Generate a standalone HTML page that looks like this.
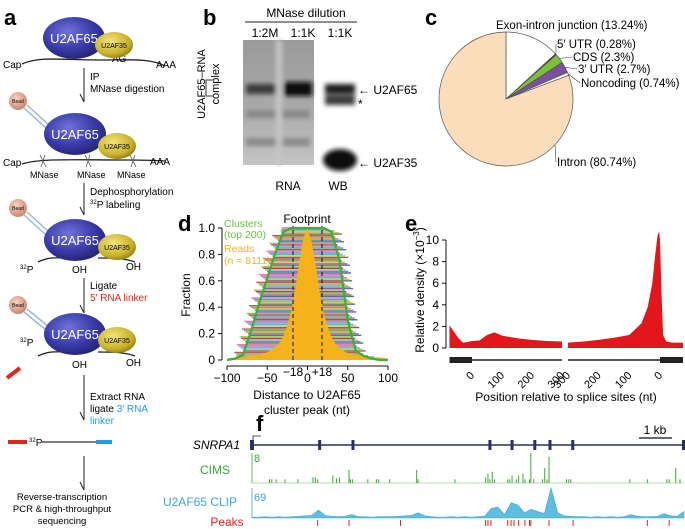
<!DOCTYPE html>
<html><head><meta charset="utf-8"><style>
html,body{margin:0;padding:0;background:#fff}
svg{display:block;font-family:"Liberation Sans",sans-serif}
</style></head><body>
<svg id="fig" width="685" height="529" viewBox="0 0 685 529">
<defs>
<radialGradient id="blueG" cx="40%" cy="35%" r="70%"><stop offset="0" stop-color="#6f74d8"/><stop offset="0.6" stop-color="#3a3aa8"/><stop offset="1" stop-color="#22226e"/></radialGradient>
<radialGradient id="yelG" cx="40%" cy="35%" r="70%"><stop offset="0" stop-color="#f3e47a"/><stop offset="0.7" stop-color="#c9b22a"/><stop offset="1" stop-color="#8d7a10"/></radialGradient>
<radialGradient id="beadG" cx="40%" cy="35%" r="70%"><stop offset="0" stop-color="#f7d2c0"/><stop offset="1" stop-color="#c9836a"/></radialGradient>
<filter id="blur2"><feGaussianBlur stdDeviation="2.5"/></filter>
<linearGradient id="gelG" x1="0" y1="0" x2="0" y2="1"><stop offset="0" stop-color="#9a9a9a"/><stop offset="0.5" stop-color="#a8a8a8"/><stop offset="1" stop-color="#c4c4c4"/></linearGradient>
</defs>

<!-- ============ Panel a ============ -->
<g font-size="10">
<text x="4" y="25" font-size="22" font-weight="bold">a</text>
<g>
<path d="M22,64 C40,56 60,60 100,60 C130,60 150,58 165,66" fill="none" stroke="#222" stroke-width="1.3"/>
<text x="3" y="68">Cap</text>
<text x="156" y="68">AAA</text>
<text x="112" y="62">AG</text>
<ellipse cx="74" cy="38" rx="31" ry="21" fill="url(#blueG)"/>
<text x="74" y="43" fill="#fff" font-size="13" text-anchor="middle">U2AF65</text>
<ellipse cx="114" cy="45" rx="19" ry="13" fill="url(#yelG)"/>
<text x="114" y="48" font-size="7" text-anchor="middle">U2AF35</text>
</g>
<line x1="84" y1="68" x2="84" y2="102" stroke="#222"/><path d="M84,102 L80,94" stroke="#222" fill="none"/>
<text x="90" y="80">IP</text><text x="90" y="92">MNase digestion</text>
<g>
<circle cx="18" cy="101" r="9" fill="url(#beadG)"/><text x="18" y="103" font-size="5" text-anchor="middle">Bead</text>
<path d="M24,108 L46,128 M27,105 L49,125" stroke="#9bb8d8" stroke-width="1.5"/>
<path d="M22,164 C40,158 80,160 120,160 C140,160 150,160 165,161" fill="none" stroke="#222" stroke-width="1.3"/>
<text x="3" y="166">Cap</text><text x="150" y="165">AAA</text>
<ellipse cx="75" cy="134" rx="31" ry="21" fill="url(#blueG)"/>
<text x="75" y="139" fill="#fff" font-size="13" text-anchor="middle">U2AF65</text>
<ellipse cx="117" cy="146" rx="19" ry="13" fill="url(#yelG)"/>
<text x="117" y="149" font-size="7" text-anchor="middle">U2AF35</text>
<text x="30" y="178" font-size="9">MNase</text><text x="77" y="178" font-size="9">MNase</text><text x="117" y="178" font-size="9">MNase</text>
<path d="M40,155 l6,12 M45,155 l-4,12 M85,155 l6,12 M90,155 l-4,12 M130,155 l6,12 M135,155 l-4,12" stroke="#555" stroke-width="0.8"/>
</g>
<line x1="84" y1="183" x2="84" y2="215" stroke="#222"/><path d="M84,215 L80,207" stroke="#222" fill="none"/>
<text x="90" y="195">Dephosphorylation</text><text x="90" y="208"><tspan font-size="6" dy="-4">32</tspan><tspan dy="4">P labeling</tspan></text>
<g>
<circle cx="18" cy="208" r="9" fill="url(#beadG)"/><text x="18" y="210" font-size="5" text-anchor="middle">Bead</text>
<path d="M24,215 L46,235 M27,212 L49,232" stroke="#9bb8d8" stroke-width="1.5"/>
<path d="M38,262 C50,256 60,258 78,258 M98,258 C110,258 125,258 135,262" fill="none" stroke="#222" stroke-width="1.3"/>
<ellipse cx="75" cy="240" rx="31" ry="21" fill="url(#blueG)"/>
<text x="75" y="245" fill="#fff" font-size="13" text-anchor="middle">U2AF65</text>
<ellipse cx="117" cy="247" rx="19" ry="13" fill="url(#yelG)"/>
<text x="117" y="250" font-size="7" text-anchor="middle">U2AF35</text>
<text x="20" y="273"><tspan font-size="6" dy="-4">32</tspan><tspan dy="4">P</tspan></text>
<text x="72" y="273">OH</text><text x="126" y="270">OH</text>
</g>
<line x1="84" y1="278" x2="84" y2="313" stroke="#222"/><path d="M84,313 L80,305" stroke="#222" fill="none"/>
<text x="90" y="289">Ligate</text><text x="90" y="301" fill="#e0261f">5′ RNA linker</text>
<g>
<circle cx="18" cy="305" r="9" fill="url(#beadG)"/><text x="18" y="307" font-size="5" text-anchor="middle">Bead</text>
<path d="M24,312 L46,330 M27,309 L49,327" stroke="#9bb8d8" stroke-width="1.5"/>
<path d="M38,356 C50,350 60,352 78,352 M98,352 C110,352 125,352 135,356" fill="none" stroke="#222" stroke-width="1.3"/>
<ellipse cx="75" cy="334" rx="31" ry="21" fill="url(#blueG)"/>
<text x="75" y="339" fill="#fff" font-size="13" text-anchor="middle">U2AF65</text>
<ellipse cx="117" cy="340" rx="19" ry="13" fill="url(#yelG)"/>
<text x="117" y="343" font-size="7" text-anchor="middle">U2AF35</text>
<text x="20" y="346"><tspan font-size="6" dy="-4">32</tspan><tspan dy="4">P</tspan></text>
<path d="M7,378 L20,368" stroke="#e0261f" stroke-width="4"/>
<text x="72" y="368">OH</text><text x="126" y="366">OH</text>
</g>
<line x1="84" y1="375" x2="84" y2="420" stroke="#222"/><path d="M84,420 L80,412" stroke="#222" fill="none"/>
<text x="90" y="400">Extract RNA</text><text x="90" y="412">ligate <tspan fill="#1fa0dc">3′ RNA</tspan></text><text x="90" y="424" fill="#1fa0dc">linker</text>
<g>
<line x1="8" y1="442" x2="27" y2="442" stroke="#e0261f" stroke-width="4"/>
<text x="29" y="446" font-size="10"><tspan font-size="6" dy="-4">32</tspan><tspan dy="4">P</tspan></text>
<line x1="42" y1="442" x2="96" y2="442" stroke="#555" stroke-width="1.5"/>
<line x1="96" y1="442" x2="112" y2="442" stroke="#1fa0dc" stroke-width="4"/>
</g>
<line x1="84" y1="456" x2="84" y2="490" stroke="#222"/><path d="M84,490 L80,482" stroke="#222" fill="none"/>
<g font-size="9.5" text-anchor="middle"><text x="62" y="500">Reverse-transcription</text><text x="62" y="512">PCR &amp; high-throughput</text><text x="62" y="524">sequencing</text></g>
</g>

<!-- ============ Panel b ============ -->
<g font-size="12">
<text x="203" y="25" font-size="22" font-weight="bold">b</text>
<text x="306" y="17" text-anchor="middle">MNase dilution</text>
<line x1="245" y1="22" x2="357" y2="22" stroke="#222"/>
<text x="265" y="37" text-anchor="middle">1:2M</text><text x="303" y="37" text-anchor="middle">1:1K</text><text x="340" y="37" text-anchor="middle">1:1K</text>
<rect x="243" y="40" width="71" height="125" fill="url(#gelG)"/>
<g filter="url(#blur2)">
<rect x="246" y="84" width="30" height="10" fill="#3a3a3a"/>
<rect x="284" y="82" width="28" height="14" fill="#111"/>
<rect x="246" y="110" width="64" height="8" fill="#888"/>
<rect x="246" y="138" width="64" height="8" fill="#8a8a8a"/>
<rect x="276" y="40" width="6" height="125" fill="#c6c6c6"/>
</g>
<g filter="url(#blur2)">
<rect x="325" y="84" width="30" height="10" fill="#1a1a1a"/>
<rect x="325" y="95" width="30" height="10" fill="#3a3a3a"/>
<ellipse cx="340" cy="160" rx="17" ry="11" fill="#0a0a0a"/>
</g>
<text x="205" y="84" font-size="11" transform="rotate(-90 205 84)" text-anchor="middle">U2AF65–RNA</text>
<text x="219" y="84" font-size="11" transform="rotate(-90 219 84)" text-anchor="middle">complex</text>
<path d="M213,80 L206,80 L206,96 L213,96" fill="none" stroke="#333"/>
<text x="358" y="94" font-size="12">← U2AF65</text>
<text x="358" y="108" font-size="12">*</text>
<text x="358" y="167" font-size="12">← U2AF35</text>
<text x="288" y="190" text-anchor="middle">RNA</text><text x="338" y="190" text-anchor="middle">WB</text>
</g>

<g id="pie" font-size="11.5">
<text x="425" y="25" font-size="22" font-weight="bold">c</text>
</g>

<g id="pd" font-size="12">
<text x="178" y="231" font-size="22" font-weight="bold">d</text>
</g>

<g id="pe" font-size="12">
<text x="405" y="231" font-size="22" font-weight="bold">e</text>
</g>

<g id="pf" font-size="11">
<text x="256" y="431" font-size="22" font-weight="bold">f</text>
<text x="240" y="449" text-anchor="end" font-style="italic" font-size="12">SNRPA1</text>
<text x="655" y="434" text-anchor="middle" font-size="12">1 kb</text>
<line x1="639" y1="438" x2="672" y2="438" stroke="#111" stroke-width="1.2"/>
<text x="215" y="474" fill="#39a935" text-anchor="middle" font-size="12">CIMS</text>
<text x="254" y="462" fill="#39a935" font-size="11">8</text>
<text x="200" y="506" fill="#3aa8d8" text-anchor="middle" font-size="12">U2AF65 CLIP</text>
<text x="254" y="501" fill="#3aa8d8" font-size="11">69</text>
<text x="227" y="526" fill="#e0261f" text-anchor="middle" font-size="12">Peaks</text>
</g>
</svg>
<script>
const NS="http://www.w3.org/2000/svg";
function mk(parent,tag,attrs){const e=document.createElementNS(NS,tag);for(const k in attrs)e.setAttribute(k,attrs[k]);parent.appendChild(e);return e;}

/* ---------- Panel c: pie ---------- */
const pieLabels=["Exon-intron junction (13.24%)","5′ UTR (0.28%)","CDS (2.3%)","3′ UTR (2.7%)","Noncoding (0.74%)","Intron (80.74%)"];
const pieValues=[13.24,0.28,2.3,2.7,0.74,80.74];
const pieColors=["#ffffff","#1d1d1d","#7cc236","#7d4fa1","#ffffff","#fbddbb"];
(function(){
  const g=document.getElementById('pie');
  const cx=506,cy=99,r=67;
  const total=pieValues.reduce((a,b)=>a+b,0);
  let a0=-Math.PI/2;
  const labelPos=[[496,29],[557,48],[573,61],[578,73],[581,87],[557,166]];
  pieValues.forEach((v,i)=>{
    const a1=a0+v/total*2*Math.PI;
    const large=(a1-a0)>Math.PI?1:0;
    const p=mk(g,'path',{d:`M${cx},${cy} L${cx+r*Math.cos(a0)},${cy+r*Math.sin(a0)} A${r},${r} 0 ${large} 1 ${cx+r*Math.cos(a1)},${cy+r*Math.sin(a1)} Z`,fill:pieColors[i],stroke:"#555","stroke-width":0.7});
    
    
    const am=(i===5)?0.75:(a0+a1)/2;
    const ex=cx+r*Math.cos(am),ey=cy+r*Math.sin(am);
    const lp=labelPos[i];
    if(i>0){
      const ln=mk(g,'line',{x1:ex,y1:ey,x2:lp[0]-1,y2:lp[1]-4,stroke:"#444","stroke-width":0.6});
      
      
    }
    const t=mk(g,'text',{x:lp[0],y:lp[1]});
    t.textContent=pieLabels[i];
    
    
    a0=a1;
  });
})();

/* ---------- Panel d ---------- */
const dReadX=[-100,-90,-80,-70,-60,-50,-40,-35,-30,-25,-20,-15,-10,-5,0,5,10,15,20,25,30,35,40,50,60,70,80,90,100];
const dReadY=[0.01,0.02,0.02,0.03,0.04,0.06,0.1,0.13,0.18,0.26,0.38,0.55,0.75,0.93,1.0,0.9,0.72,0.52,0.36,0.25,0.17,0.12,0.09,0.05,0.04,0.03,0.02,0.02,0.01];
const dClusterX=[-100,-90,-80,-70,-60,-50,-40,-30,-20,-10,0,10,20,30,40,50,60,70,80,90,100];
const dClusterY=[0,0.01,0.04,0.22,0.43,0.62,0.81,0.97,1,1,1,1,1,0.97,0.75,0.3,0.07,0.03,0.01,0,0];
const dXTicks=[-100,-50,0,50,100];
const dYTicks=[0,0.2,0.4,0.6,0.8,1.0];
(function(){
  const g=document.getElementById('pd');
  const X=v=>227+(v+100)/200*161, Y=v=>360-v*132;
  const cols=["#7a3b8f","#3c8dc4","#e88f2c","#62a744","#c23b3b","#555","#d4b83a","#3bb6a8","#8e6fc8","#e36aa1","#2b5d8f","#9c6b3a","#6aa9e0","#aa2222","#88bb33"];
  function invLeft(f){for(let i=0;i<10;i++){const y0=dClusterY[i],y1=dClusterY[i+1];if(f>=y0&&f<=y1&&y1>y0)return dClusterX[i]+(f-y0)/(y1-y0)*10;}return -20;}
  function invRight(f){for(let i=12;i<20;i++){const y0=dClusterY[i],y1=dClusterY[i+1];if(f<=y0&&f>=y1&&y0>y1)return dClusterX[i]+(y0-f)/(y0-y1)*10;}return 20;}
  for(let k=0;k<85;k++){
    const f=0.01+k*0.0118;
    const ext=(k%5)*3;
    const l=mk(g,'line',{x1:X(Math.max(-100,invLeft(f)-ext)),x2:X(Math.min(100,invRight(f)+(4-k%5)*3)),y1:Y(f),y2:Y(f),stroke:cols[k%cols.length],'stroke-width':1.4,opacity:0.85});
    
    
  }
  let pts=dReadX.map((x,i)=>`${X(x)},${Y(dReadY[i])}`).join(' ');
  const ar=mk(g,'polygon',{points:`${X(-100)},${Y(0)} ${pts} ${X(100)},${Y(0)}`,fill:"#f6b21b"});
  
  
  const gl=mk(g,'polyline',{points:dClusterX.map((x,i)=>`${X(x)},${Y(dClusterY[i])}`).join(' '),fill:"none",stroke:"#3cb034",'stroke-width':2.2});
  
  
  [-18,18].forEach(v=>{const d=mk(g,'line',{x1:X(v),x2:X(v),y1:Y(0),y2:Y(1.0)-2,stroke:"#111",'stroke-dasharray':"4,3",'stroke-width':1});
    
    });
  const ax=mk(g,'line',{x1:X(-100),x2:X(100),y1:366,y2:366,stroke:"#111"});
  
  
  dXTicks.forEach(v=>{mk(g,'line',{x1:X(v),x2:X(v),y1:366,y2:370,stroke:"#111"});
    const t=mk(g,'text',{x:X(v),y:382,'text-anchor':'middle'});t.textContent=(v<0?'−'+(-v):v);
    
    });
  [["−18",-18],["+18",18]].forEach(([s,v])=>{const t=mk(g,'text',{x:X(v),y:376,'text-anchor':'middle'});t.textContent=s;
    
    });
  const ay=mk(g,'line',{x1:222,x2:222,y1:Y(0),y2:Y(1),stroke:"#111"});
  
  
  dYTicks.forEach(v=>{mk(g,'line',{x1:218,x2:222,y1:Y(v),y2:Y(v),stroke:"#111"});
    const t=mk(g,'text',{x:215,y:Y(v)+4,'text-anchor':'end'});t.textContent=(v===0?'0':v.toFixed(1));
    
    });
  const yt=mk(g,'text',{x:190,y:295,'text-anchor':'middle',transform:'rotate(-90 190 295)'});yt.textContent='Fraction';
  
  
  const x1=mk(g,'text',{x:307,y:399,'text-anchor':'middle'});x1.textContent='Distance to U2AF65';
  
  
  const x2=mk(g,'text',{x:307,y:414,'text-anchor':'middle'});x2.textContent='cluster peak (nt)';
  
  
  const ft=mk(g,'text',{x:307,y:223,'text-anchor':'middle'});ft.textContent='Footprint';
  
  
  [["Clusters",227,"#6fbe44"],["(top 200)",238,"#6fbe44"],["Reads",252,"#f6b21b"],["(n = 8111)",264,"#f6b21b"]].forEach(([s,y,c])=>{
    const t=mk(g,'text',{x:224,y:y,fill:c,'font-size':10.5});t.textContent=s;
    
    });
})();

/* ---------- Panel e ---------- */
const e5X=[-75,-60,-45,-30,-15,0,25,50,75,100,150,200,250,300];
const e5Y=[2.1,1.5,0.9,0.5,0.55,0.65,0.7,1.2,1.45,1.15,0.9,0.75,0.65,0.6];
const e3X=[300,250,200,150,100,60,40,25,15,8,3,0,-5,-10,-20,-40,-75];
const e3Y=[0.5,0.6,0.75,0.95,1.2,2.3,3.8,6,8.8,10.4,10.8,10,5,1.2,0.6,0.5,0.5];
const eYTicks=[0,2,4,6,8,10];
const eXTicks=[0,100,200,300];
(function(){
  const g=document.getElementById('pe');
  const Y=v=>348-v*10.8;
  const XL=v=>472+v*0.3, XR=v=>660-v*0.307;
  const a1=mk(g,'polygon',{points:`${XL(-75)},${Y(0)} `+e5X.map((x,i)=>`${XL(x)},${Y(e5Y[i])}`).join(' ')+` ${XL(300)},${Y(0)}`,fill:"#e2161b"});
  
  
  const a2=mk(g,'polygon',{points:`${XR(300)},${Y(0)} `+e3X.map((x,i)=>`${XR(x)},${Y(e3Y[i])}`).join(' ')+` ${XR(-75)},${Y(0)}`,fill:"#e2161b"});
  
  
  const ay=mk(g,'line',{x1:446,x2:446,y1:Y(0),y2:Y(10),stroke:"#111"});
  
  
  eYTicks.forEach(v=>{mk(g,'line',{x1:442,x2:446,y1:Y(v),y2:Y(v),stroke:"#111"});
    const t=mk(g,'text',{x:439,y:Y(v)+4,'text-anchor':'end'});t.textContent=v;
    
    });
  const yt=mk(g,'text',{x:424,y:290,'text-anchor':'middle',transform:'rotate(-90 424 290)'});
  yt.innerHTML='Relative density (×10<tspan font-size="8" dy="-5">−3</tspan><tspan dy="5">)</tspan>';
  
  
  mk(g,'rect',{x:XL(-75),y:357,width:XL(0)-XL(-75),height:6,fill:"#222"});
  mk(g,'line',{x1:XL(0),x2:XL(300),y1:360,y2:360,stroke:"#222",'stroke-width':1.5});
  mk(g,'line',{x1:XR(300),x2:XR(0),y1:360,y2:360,stroke:"#222",'stroke-width':1.5});
  mk(g,'rect',{x:XR(0),y:357,width:XR(-75)-XR(0),height:6,fill:"#222"});
  eXTicks.forEach(v=>{[XL(v),XR(v)].forEach(x=>{
    const t=mk(g,'text',{x:x+3,y:376,'text-anchor':'end','font-size':11,transform:`rotate(-45 ${x+3} 376)`});t.textContent=v;
    
    });});
  const xt=mk(g,'text',{x:566,y:401,'text-anchor':'middle'});xt.textContent='Position relative to splice sites (nt)';
  
  
})();

/* ---------- Panel f ---------- */
const exonKb=[0,2.05,3.06,7.21,7.88,8.57,9.03,9.72,13.09];
const cimsKb=[0.53,0.60,0.73,1.0,1.39,1.85,1.92,1.99,2.45,2.56,2.65,2.94,2.98,3.05,3.51,3.77,3.84,4.17,4.99,5.03,6.15,7.08,7.15,7.21,7.28,7.35,7.75,7.81,7.88,8.01,8.08,8.21,8.27,8.41,8.45,8.54,8.8,8.87,8.94,9.0,9.53,9.6,9.66,11.45,11.98,12.57,12.64,12.84,12.97];
const cimsCount=[1,1,1,1,1,1.5,1.5,1,2,1.2,1.5,3.5,1,1,1,1,1,1,3.5,1,1,1.5,2.5,1,3,1,1,1,2,1,2,2.5,1,1,8,1,1,4,1,7,1,1,1,1,1,1,1,4,1];
const clipVals=[2,2,3,2,3,2,3,4,5,6,18,6,4,3,4,8,3,3,2,3,3,3,4,5,6,12,5,3,2,2,3,2,3,2,3,4,22,25,8,35,30,12,20,15,10,69,12,5,4,3,3,2,3,2,3,2,3,8,4,3,3,4,10,5,4,15];
const peakKb=[1.99,2.94,4.50,7.08,7.15,7.24,7.75,7.85,7.94,8.08,8.27,8.41,8.45,9.0,9.73,11.98,12.64];
(function(){
  const g=document.getElementById('pf');
  const X=kb=>252+kb*33;
  const gl=mk(g,'line',{x1:X(0),x2:X(13.09),y1:445,y2:445,stroke:"#2b2f66",'stroke-width':1.6});
  
  
  exonKb.forEach((k,i)=>{const w=(i===0||i===exonKb.length-1)?4:3;
    const r=mk(g,'rect',{x:X(k)-w/2,y:440,width:w,height:10,fill:"#2b2f66"});
    
    });
  mk(g,'path',{d:`M${X(0)+1},441 L${X(0)+1},436 L${X(0)+9},436`,fill:"none",stroke:"#222",'stroke-width':0.8});
  mk(g,'line',{x1:X(0),x2:X(0),y1:453,y2:483,stroke:"#39a935",'stroke-width':0.8});
  mk(g,'line',{x1:X(0),x2:X(13.09),y1:483,y2:483,stroke:"#9fd49a",'stroke-width':0.8});
  const cy=v=>483-v/8*30;
  cimsKb.forEach((k,i)=>{const b=mk(g,'line',{x1:X(k),x2:X(k),y1:483,y2:cy(cimsCount[i]),stroke:"#39a935",'stroke-width':1});
    
    });
  mk(g,'line',{x1:X(0),x2:X(0),y1:488,y2:518,stroke:"#3aa8d8",'stroke-width':0.8});
  const clY=v=>518-v/69*30;
  const step=13.09/(clipVals.length-1);
  const pts=clipVals.map((v,i)=>`${X(i*step)},${clY(v)}`).join(' ');
  const cp=mk(g,'polygon',{points:`${X(0)},518 ${pts} ${X(13.09)},518`,fill:"#5fbedf",stroke:"#3aa8d8",'stroke-width':0.6});
  
  
  peakKb.forEach(k=>{const p=mk(g,'line',{x1:X(k),x2:X(k),y1:520,y2:526,stroke:"#e0261f",'stroke-width':1});
    
    });
})();
</script>
</body></html>
